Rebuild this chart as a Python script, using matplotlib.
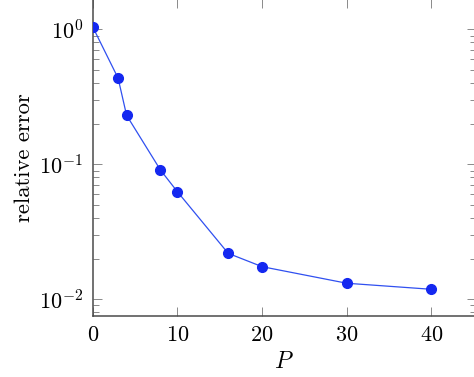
import matplotlib
matplotlib.use("Agg")
import matplotlib.pyplot as plt
from matplotlib.ticker import LogLocator, FixedLocator

# data
P = [0, 3, 4, 8, 10, 16, 20, 30, 40]
rel_err = [1.045, 0.435, 0.231, 0.0908, 0.0627, 0.0219, 0.01745, 0.01315, 0.01186]
x_ticks = [0, 10, 20, 30, 40]

plt.rcParams["font.family"] = ["cmr10", "DejaVu Serif"]
plt.rcParams["mathtext.fontset"] = "cm"
plt.rcParams["axes.formatter.use_mathtext"] = True

fig = plt.figure(figsize=(4.74, 3.77), dpi=100)
# axes run a little past the right and top edges, as in the cropped original
ax = fig.add_axes([92.7 / 474, (377 - 316) / 377, (475.5 - 92.7) / 474, 317 / 377])

ax.plot(P, rel_err, color="#3050f0", lw=0.9, marker="o", ms=7,
        mfc="#1428f0", mec="#1428f0", zorder=3)

ax.set_yscale("log")
ax.set_xlim(0, 45.2)
ax.set_ylim(0.00752, 1.68)

ax.xaxis.set_major_locator(FixedLocator(x_ticks))
ax.yaxis.set_major_locator(LogLocator(base=10, numticks=10))
ax.yaxis.set_minor_locator(LogLocator(base=10, subs=range(2, 10), numticks=20))

ax.tick_params(which="both", direction="in", top=True, right=True,
               color="#8a8a8a", width=0.7, labelsize=16)
ax.tick_params(axis="x", pad=7)
ax.tick_params(axis="y", pad=7)
ax.tick_params(which="major", length=6.5)
ax.tick_params(which="minor", length=4.5)

for s in ax.spines.values():
    s.set_color("#4a4a4a")
    s.set_linewidth(1.1)

ax.set_xlabel("$P$", fontsize=17, labelpad=4)
ax.set_ylabel("relative error", fontsize=16.3, labelpad=3)

fig.savefig("out.png", dpi=100)
